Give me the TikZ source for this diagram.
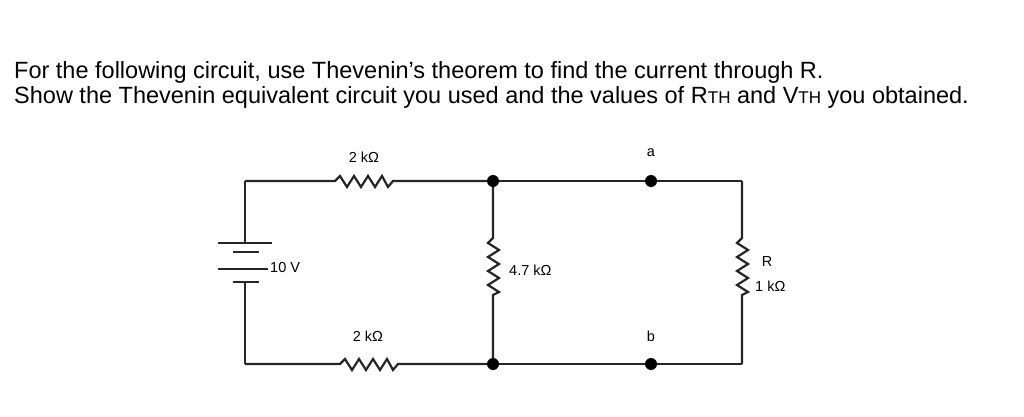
\documentclass[tikz,border=0pt]{standalone}
\usepackage{fontspec}
\setmainfont{Liberation Sans}
\newcommand{\smTH}{{\fontsize{17}{20}\selectfont TH}}
\begin{document}
\begin{tikzpicture}[x=1pt,y=-1pt,wire/.style={line width=2.2pt,black!85},
 dot/.style={circle,fill=black,inner sep=0pt,minimum size=12pt},
 lbl/.style={font=\fontsize{14.5}{16}\selectfont,inner sep=0pt}]
\useasboundingbox (0,0) rectangle (1024,417);
\node[anchor=west,inner sep=0pt,font=\fontsize{23.5}{26}\selectfont,align=left] (t) at (14,85)
 {For the following circuit, use Thevenin's theorem to find the current through R.\\[-1pt]
 Show the Thevenin equivalent circuit you used and the values of R\smTH{} and V\smTH{} you obtained.};
\coordinate (tl) at (245,181); \coordinate (bl) at (245,364);
\node[dot] (n1) at (493,181) {}; \node[dot] (n2) at (493,364) {};
\node[dot] (a) at (651,181) {}; \node[dot] (b) at (651,364) {};
\coordinate (tr) at (742,181); \coordinate (br) at (742,364);
\draw[wire] (tl) -- (335,181) -- (340,176) -- (347,187) -- (354,176) -- (361,187) -- (368,176) -- (375,187) -- (382,176) -- (388,187) -- (393,181) -- (n1);
\draw[wire] (bl) -- (340,364) -- (345,359) -- (352,370) -- (359,359) -- (366,370) -- (373,359) -- (380,370) -- (387,359) -- (393,370) -- (398,364) -- (n2);
\draw[wire] (n1) -- (a) -- (tr); \draw[wire] (n2) -- (b) -- (br);
\draw[wire] (n1) -- (493,238) -- (488,243) -- (499,250) -- (488,257) -- (499,264) -- (488,271) -- (499,278) -- (488,285) -- (499,292) -- (493,295) -- (n2);
\draw[wire] (tr) -- (742,238) -- (737,243) -- (748,250) -- (737,257) -- (748,264) -- (737,271) -- (748,278) -- (737,285) -- (748,292) -- (742,295) -- (br);
\draw[wire] (tl) -- (245,243); \draw[wire] (bl) -- (245,282);
\draw[wire] (218,243) -- (272,243); \draw[wire] (233,252) -- (259,252);
\draw[wire] (218,269) -- (268,269); \draw[wire] (233,282) -- (259,282);
\node[lbl,anchor=west] (v) at (270,268) {10 V};
\node[lbl] (r1) at (364,157) {2 kΩ};
\node[lbl] (r2) at (368,336) {2 kΩ};
\node[lbl,anchor=west] (r3) at (509,270) {4.7 kΩ};
\node[lbl] (la) at (651,153) {a};
\node[lbl] (lb) at (651,336) {b};
\node[lbl] (lr) at (767,262) {R};
\node[lbl,anchor=west] (lr2) at (755,286) {1 kΩ};
\end{tikzpicture}
\end{document}
